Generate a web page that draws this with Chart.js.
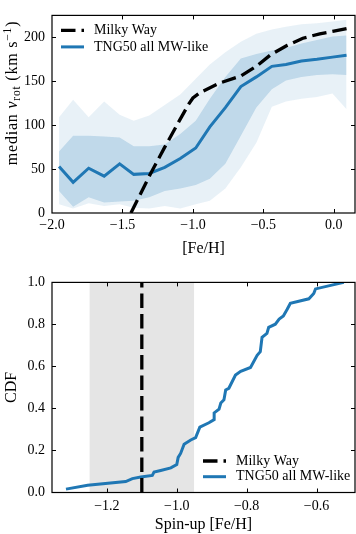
<!DOCTYPE html>
<html lang="en">
<head>
<meta charset="UTF-8">
<title>Spin-up metallicity</title>
<script src="https://cdn.jsdelivr.net/npm/chart.js"></script>
<style>
  html, body { margin: 0; padding: 0; background: #fff; }
  canvas { display: block; }
</style>
</head>
<body>
<canvas id="topChart" width="356" height="267"></canvas>
<canvas id="bottomChart" width="356" height="267"></canvas>
<script>
// top panel: median v_rot in [Fe/H] bins
const fehBins   = [-1.95, -1.85, -1.74, -1.63, -1.52, -1.42, -1.31, -1.20, -1.09, -0.98,
                   -0.88, -0.77, -0.66, -0.55, -0.44, -0.34, -0.23, -0.12, -0.01, 0.09];
const tngMedian = [53, 35, 51, 42, 56, 44, 45, 52, 62, 74, 98, 120, 144, 155, 167, 169, 173, 175, 177.5, 179.5];
const tngLo16   = [25, 7, 18, 12, 13, 14, 18, 25, 28, 32, 39, 56, 88, 120, 141, 151, 155, 157, 158, 157];
const tngHi84   = [70, 88, 88, 87, 86, 76, 76, 78, 90, 105, 130, 155, 176, 181, 185, 188, 193, 197, 201, 202];
const tngLo5    = [10, 5, 11, 8, 10, 6, 5, 8, 5, 10, 14, 28, 52, 80, 121, 127, 130, 132, 136, 118];
const tngHi95   = [109, 129, 109, 127, 112, 105, 111, 123, 135, 153, 169, 183, 195, 204, 209, 212, 215, 216, 218, 220];

const mwFeh  = [-1.44, -1.30, -1.20, -1.10, -1.03, -1.00, -0.95, -0.81, -0.66, -0.55, -0.45, -0.33, -0.22, -0.10, 0.00, 0.09];
const mwVrot = [0, 45, 75, 104, 124, 131, 137, 148, 156, 167, 180, 191, 199, 204, 207, 210];

const topXTicks = [-2.0, -1.5, -1.0, -0.5, 0.0];
const topYTicks = [0, 50, 100, 150, 200];

// bottom panel: CDF of spin-up metallicity
const spinFeh = [-1.317, -1.255, -1.146, -1.127, -1.103, -1.070, -1.065, -1.046, -1.017, -1.000,
                 -0.996, -0.989, -0.979, -0.960, -0.946, -0.934, -0.908, -0.893, -0.893, -0.879,
                 -0.874, -0.865, -0.860, -0.851, -0.832, -0.817, -0.789, -0.770, -0.761, -0.756,
                 -0.742, -0.737, -0.718, -0.707, -0.695, -0.684, -0.675, -0.622, -0.608, -0.603, -0.522];
const spinCdf = [0.016, 0.034, 0.052, 0.066, 0.074, 0.081, 0.097, 0.105, 0.117, 0.133,
                 0.167, 0.186, 0.230, 0.250, 0.261, 0.311, 0.332, 0.347, 0.379, 0.397,
                 0.426, 0.441, 0.488, 0.496, 0.559, 0.577, 0.595, 0.653, 0.670, 0.739,
                 0.757, 0.786, 0.801, 0.825, 0.840, 0.872, 0.900, 0.922, 0.947, 0.969, 1.0];
const mwSpinUp = -1.1;
const mwSpinLo = -1.25;
const mwSpinHi = -0.95;

const botXTicks = [-1.2, -1.0, -0.8, -0.6];
const botYTicks = [0.0, 0.2, 0.4, 0.6, 0.8, 1.0];

const BLUE = '#1f77b4';
const SERIF = "'Liberation Serif', 'DejaVu Serif', serif";
Chart.defaults.font.family = SERIF;
Chart.defaults.color = '#000';

const pts = (xs, ys) => xs.map((x, i) => ({x: x, y: ys[i]}));
const fmt1 = v => v.toFixed(1).replace('-', '\u2212');

// frame, inward ticks on all four sides, legend, rich y title
const decor = {
    id: 'decor',
    afterDatasetsDraw(chart, args, opts) {
        const {ctx, chartArea: a} = chart;
        const xs = chart.scales.x, ys = chart.scales.y;
        const tl = 4;
        ctx.save();
        ctx.strokeStyle = '#000';
        ctx.lineWidth = 1;
        xs.ticks.forEach(t => {
            const px = Math.round(xs.getPixelForValue(t.value)) + 0.5;
            if (px < a.left + 2 || px > a.right - 2) return;
            ctx.beginPath();
            ctx.moveTo(px, a.bottom); ctx.lineTo(px, a.bottom - tl);
            ctx.moveTo(px, a.top); ctx.lineTo(px, a.top + tl);
            ctx.stroke();
        });
        ys.ticks.forEach(t => {
            const py = Math.round(ys.getPixelForValue(t.value)) + 0.5;
            if (py < a.top + 2 || py > a.bottom - 2) return;
            ctx.beginPath();
            ctx.moveTo(a.left, py); ctx.lineTo(a.left + tl, py);
            ctx.moveTo(a.right, py); ctx.lineTo(a.right - tl, py);
            ctx.stroke();
        });
        ctx.lineWidth = 1.2;
        ctx.strokeRect(a.left, a.top, a.right - a.left, a.bottom - a.top);

        // legend
        const lg = opts.legend;
        if (lg) {
            const x0 = lg.fromRight ? a.right - lg.dx : a.left + lg.dx;
            const y0 = lg.fromBottom ? a.bottom - lg.dy : a.top + lg.dy;
            ctx.font = '14px ' + SERIF;
            ctx.textBaseline = 'middle';
            ctx.textAlign = 'left';
            lg.items.forEach((idx, k) => {
                const ds = chart.data.datasets[idx];
                const yy = y0 + k * lg.gap;
                ctx.save();
                ctx.strokeStyle = ds.borderColor;
                ctx.lineWidth = ds.borderWidth;
                ctx.setLineDash(ds.borderDash || []);
                ctx.beginPath();
                ctx.moveTo(x0, yy); ctx.lineTo(x0 + 23, yy);
                ctx.stroke();
                ctx.restore();
                ctx.fillStyle = '#000';
                ctx.fillText(ds.label, x0 + 33, yy);
            });
        }

        // y title with sub/superscripts
        if (opts.yTitle) {
            const parts = opts.yTitle.parts;
            ctx.letterSpacing = opts.yTitle.spacing || '0px';
            let total = 0;
            parts.forEach(p => { ctx.font = p.font; total += ctx.measureText(p.t).width; });
            ctx.translate(opts.yTitle.x, opts.yTitle.y);
            ctx.rotate(-Math.PI / 2);
            ctx.textBaseline = 'alphabetic';
            ctx.fillStyle = '#000';
            let cx = -total / 2;
            parts.forEach(p => {
                ctx.font = p.font;
                ctx.fillText(p.t, cx, 5 + (p.dy || 0));
                cx += ctx.measureText(p.t).width;
            });
        }
        ctx.restore();
    }
};

function fixedTicks(list) {
    return scale => { scale.ticks = list.map(v => ({value: v})); };
}

// ---- top chart ----
new Chart(document.getElementById('topChart'), {
    type: 'line',
    data: {
        datasets: [
            {label: 'Milky Way', data: pts(mwFeh, mwVrot), borderColor: '#000', borderWidth: 3.3,
             borderDash: [14.5, 6], fill: false},
            {label: 'TNG50 all MW-like', data: pts(fehBins, tngMedian), borderColor: BLUE, borderWidth: 3, fill: false},
            {label: 'p84', data: pts(fehBins, tngHi84), borderColor: 'transparent', borderWidth: 0,
             backgroundColor: 'rgba(31,119,180,0.2)', fill: '+1'},
            {label: 'p16', data: pts(fehBins, tngLo16), borderColor: 'transparent', borderWidth: 0, fill: false},
            {label: 'p95', data: pts(fehBins, tngHi95), borderColor: 'transparent', borderWidth: 0,
             backgroundColor: 'rgba(31,119,180,0.1)', fill: '+1'},
            {label: 'p5', data: pts(fehBins, tngLo5), borderColor: 'transparent', borderWidth: 0, fill: false}
        ]
    },
    options: {
        responsive: false,
        animation: false,
        layout: {padding: {top: 1, right: 1, left: 0, bottom: 0}},
        elements: {point: {radius: 0}, line: {tension: 0}},
        plugins: {
            legend: {display: false},
            tooltip: {enabled: false},
            decor: {
                legend: {dx: 9, dy: 15, gap: 16.5, items: [0, 1]},
                yTitle: {
                    x: 12, y: 93, spacing: '0.8px',
                    parts: [
                        {t: 'median ', font: '16px ' + SERIF},
                        {t: 'v', font: 'italic 16px ' + SERIF},
                        {t: 'rot', font: '11.5px ' + SERIF, dy: 3},
                        {t: ' (km s', font: '16px ' + SERIF},
                        {t: '\u22121', font: '11.5px ' + SERIF, dy: -6},
                        {t: ')', font: '16px ' + SERIF}
                    ]
                }
            }
        },
        scales: {
            x: {
                type: 'linear', min: -2.0, max: 0.15,
                afterBuildTicks: fixedTicks(topXTicks),
                afterFit: s => { s.height = 54; },
                grid: {display: false, drawTicks: false},
                border: {display: false},
                ticks: {font: {size: 14}, padding: 4, maxRotation: 0, callback: v => fmt1(v)},
                title: {display: true, text: '[Fe/H]', font: {size: 16}, padding: {top: 0, bottom: 9}}
            },
            y: {
                type: 'linear', min: 0, max: 225,
                afterBuildTicks: fixedTicks(topYTicks),
                afterFit: s => { s.width = 52; },
                grid: {display: false, drawTicks: false},
                border: {display: false},
                ticks: {font: {size: 14}, padding: 7}
            }
        }
    },
    plugins: [decor]
});

// ---- bottom chart ----
new Chart(document.getElementById('bottomChart'), {
    type: 'line',
    data: {
        datasets: [
            {label: 'Milky Way', data: [{x: mwSpinUp, y: 0}, {x: mwSpinUp, y: 1}], borderColor: '#000',
             borderWidth: 3.3, borderDash: [14.5, 6], fill: false},
            {label: 'TNG50 all MW-like', data: pts(spinFeh, spinCdf), borderColor: BLUE, borderWidth: 3, fill: false},
            {label: 'MW range', data: [{x: mwSpinLo, y: 1}, {x: mwSpinHi, y: 1}], borderColor: 'transparent',
             borderWidth: 0, backgroundColor: '#e5e5e5', fill: 'origin'}
        ]
    },
    options: {
        responsive: false,
        animation: false,
        layout: {padding: {top: 12.5, right: 1, left: 0, bottom: 0}},
        elements: {point: {radius: 0}, line: {tension: 0}},
        plugins: {
            legend: {display: false},
            tooltip: {enabled: false},
            decor: {
                legend: {fromRight: true, fromBottom: true, dx: 152, dy: 31.5, gap: 15.7, items: [0, 1]}
            }
        },
        scales: {
            x: {
                type: 'linear', min: -1.357, max: -0.49,
                afterBuildTicks: fixedTicks(botXTicks),
                afterFit: s => { s.height = 41.5; },
                grid: {display: false, drawTicks: false},
                border: {display: false},
                ticks: {font: {size: 14}, padding: 5, maxRotation: 0, callback: v => fmt1(v)},
                title: {display: true, text: 'Spin-up [Fe/H]', font: {size: 16}, padding: {top: 0, bottom: 0}}
            },
            y: {
                type: 'linear', min: 0, max: 1,
                afterBuildTicks: fixedTicks(botYTicks),
                afterFit: s => { s.width = 52; },
                grid: {display: false, drawTicks: false},
                border: {display: false},
                ticks: {font: {size: 14}, padding: 7, callback: v => v.toFixed(1)},
                title: {display: true, text: 'CDF', font: {size: 16}, padding: {top: 2, bottom: 0}}
            }
        }
    },
    plugins: [decor]
});
</script>
</body>
</html>
